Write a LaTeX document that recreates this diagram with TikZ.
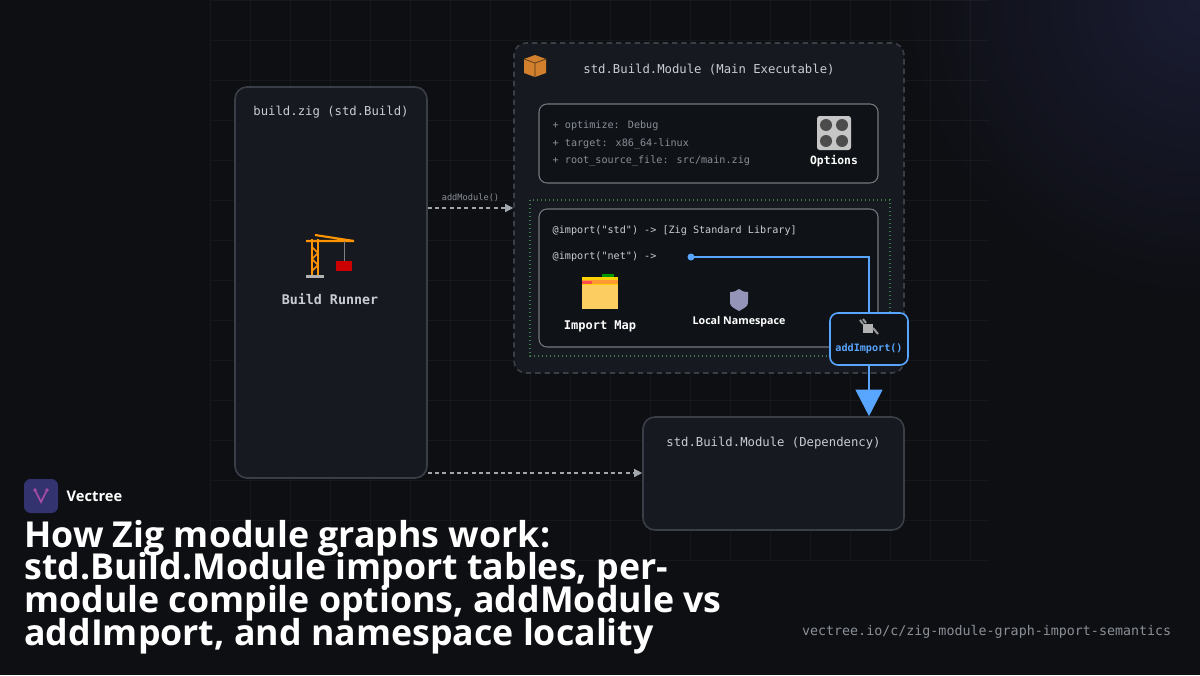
\documentclass[tikz,border=0pt]{standalone}
\usepackage{fontspec}
\setmainfont{Open Sans}
\newfontfamily\mono{DejaVu Sans Mono}
\usetikzlibrary{arrows.meta,calc}
\definecolor{bg}{HTML}{0E0F13}
\definecolor{panel}{HTML}{161A20}
\definecolor{inner}{HTML}{0F1217}
\definecolor{bord}{HTML}{3A3F47}
\definecolor{txt}{HTML}{C9CDD3}
\definecolor{dim}{HTML}{8A9098}
\definecolor{blu}{HTML}{58A6FF}
\definecolor{grn}{HTML}{3E7D4A}
\definecolor{glow}{HTML}{1A1C33}
\tikzset{
  box/.style={draw=bord,line width=1.2pt,fill=panel,rounded corners=9pt},
  ibox/.style={draw=bord!70,line width=0.8pt,fill=inner,rounded corners=6pt},
  mt/.style={font=\mono\fontsize{7.6}{10}\selectfont,text=dim,anchor=west},
  ht/.style={font=\mono\fontsize{9.2}{11}\selectfont,text=txt},
  bt/.style={font=\mono\bfseries\fontsize{8.5}{11}\selectfont,text=white},
  dconn/.style={draw=dim!80,line width=1pt,dash pattern=on 3pt off 2.5pt,-{Triangle[length=6pt,width=6pt]}},
}
\begin{document}
\setlength{\lineskiplimit}{-30pt}
\begin{tikzpicture}[x=0.75pt,y=-0.75pt]
\useasboundingbox (0,0) rectangle (1200,675);
\fill[bg] (0,0) rectangle (1200,675);
\shade[inner color=glow,outer color=bg] (1200,0) circle (300*0.75pt);
% grid
\foreach \x in {210,250,...,990} \draw[white,opacity=0.035] (\x,0) -- (\x,560);
\foreach \y in {0,40,...,560} \draw[white,opacity=0.035] (210,\y) -- (990,\y);
% build box
\node[box,minimum width=192*0.75pt,minimum height=391*0.75pt] (build) at (331,282.5) {};
\node[ht] (buildt) at (331,112) {build.zig (std.Build)};
% crane icon
\begin{scope}[shift={(330,257)}]
\draw[orange!85!yellow,line width=1.6pt] (-18,20) -- (-18,-18) (-12,20) -- (-12,-18);
\draw[orange!85!yellow,line width=1.2pt] (-18,14)--(-12,8)--(-18,2)--(-12,-4)--(-18,-10);
\draw[orange!85!yellow,line width=1.6pt] (-24,-16) -- (24,-16) (-15,-22)--(24,-16);
\draw[gray,line width=0.6pt] (14,-16) -- (14,4);
\fill[red!80!black] (6,4) rectangle (22,14);
\fill[gray!60] (-24,18) rectangle (-6,21);
\end{scope}
\node[font=\mono\bfseries\fontsize{10}{12}\selectfont,text=txt] (runner) at (330,299) {Build Runner};
% main module
\node[box,fill=panel,dash pattern=on 4pt off 3pt,minimum width=390*0.75pt,minimum height=330*0.75pt] (main) at (709,208) {};
\begin{scope}[shift={(535,66)}]
\fill[brown!70!orange] (-11,-7) -- (0,-11) -- (11,-7) -- (11,7) -- (0,11) -- (-11,7) -- cycle;
\draw[brown!40!black,line width=0.5pt] (-11,-7)--(0,-3)--(11,-7) (0,-3)--(0,11);
\end{scope}
\node[ht] (maint) at (709,70) {std.Build.Module (Main Executable)};
% options
\node[ibox,minimum width=339*0.75pt,minimum height=79*0.75pt] (opt) at (708.5,143.5) {};
\node[mt] at (548,126) {+ optimize: Debug};
\node[mt] at (548,144) {+ target: x86\_64-linux};
\node[mt] at (548,161) {+ root\_source\_file: src/main.zig};
\begin{scope}[shift={(834,133)}]
\fill[gray!45,rounded corners=2pt] (-17,-17) rectangle (17,17);
\foreach \p in {(-8,-8),(8,-8),(-8,8),(8,8)} \fill[black!70] \p circle (6);
\end{scope}
\node[bt] (optt) at (834,161) {Options};
% green dotted
\draw[grn,line width=1pt,dash pattern=on 1pt off 2pt] (530,200) rectangle (890,356);
\node[ibox,minimum width=339*0.75pt,minimum height=138*0.75pt] (imp) at (708.5,278) {};
\node[mt,text=txt] at (548,231) {@import("std") -> [Zig Standard Library]};
\node[mt,text=txt] (net) at (548,257) {@import("net") ->};
\coordinate (dot) at (691,257);
% folder
\begin{scope}[shift={(600,293)}]
\fill[green!60!black] (2,-19) rectangle (14,-14);
\fill[yellow!70!orange] (-18,-16) rectangle (18,16);
\fill[orange!80] (-18,-13) rectangle (18,-9);
\fill[red!70] (-18,-12) rectangle (-8,-9);
\fill[yellow!40!orange!60!white] (-18,-8) rectangle (18,16);
\end{scope}
\node[bt,font=\mono\bfseries\fontsize{9}{11}\selectfont] at (600,326) {Import Map};
\begin{scope}[shift={(739,300)}]
\fill[blue!20!gray!70] (0,-11) .. controls (5,-8) .. (9,-8) -- (9,0) .. controls (9,6) .. (0,11) .. controls (-9,6) .. (-9,0) -- (-9,-8) .. controls (-5,-8) .. cycle;
\end{scope}
\node[bt,font=\bfseries\fontsize{8}{10}\selectfont] at (739,322) {Local Namespace};
% dependency
\node[box,minimum width=261*0.75pt,minimum height=113*0.75pt] (dep) at (773.5,473.5) {};
\node[ht] at (773.5,443) {std.Build.Module (Dependency)};
% blue connector
\draw[blu,line width=2.2pt,-{Triangle[length=20pt,width=20pt]}] (dot) -- (869,257) -- (dep.north -| 869,0);
\fill[blu] (dot) circle (3.5);
% addImport
\node[draw=blu,line width=1.2pt,fill=inner,rounded corners=6pt,minimum width=78*0.75pt,minimum height=52*0.75pt] (addi) at (869,339) {};
\begin{scope}[shift={(869,328)}]
\fill[gray!60] (-6,-4) rectangle (4,5);
\draw[gray!80,line width=1.5pt] (4,0)--(9,6) (-6,-4)--(-9,-8) (-3,-5)--(-6,-9);
\end{scope}
\node[font=\mono\bfseries\fontsize{7.6}{10}\selectfont,text=blu] at (869,349) {addImport()};
% dashed connectors
\draw[dconn] (build.east |- 0,208) -- (main.west |- 0,208) node[midway,above=1pt,font=\mono\fontsize{6.5}{8}\selectfont,text=dim] {addModule()};
\draw[dconn] (build.east |- 0,473) -- (dep.west |- 0,473);
% brand
\node[fill=blue!30!black!80,rounded corners=5pt,minimum width=34*0.75pt,minimum height=34*0.75pt] (logo) at (41,496) {};
\draw[violet!70!white,line width=1.2pt] (35,490) -- (41,502) -- (47,490);
\fill[violet!70!white] (35,490) circle (1.8) (47,490) circle (1.8);
\node[anchor=west,font=\bfseries\fontsize{11}{13}\selectfont,text=white] (brand) at (62,496) {Vectree};
\node[anchor=north west,align=left,font=\bfseries\fontsize{26.8}{24.4}\selectfont,text=white,inner sep=0pt] (title) at (24,520) {How Zig module graphs work:\\std.Build.Module import tables, per-\\module compile options, addModule vs\\addImport, and namespace locality};
\node[anchor=east,font=\mono\fontsize{10}{12}\selectfont,text=dim] (url) at (1176,632) {vectree.io/c/zig-module-graph-import-semantics};
\end{tikzpicture}
\end{document}
